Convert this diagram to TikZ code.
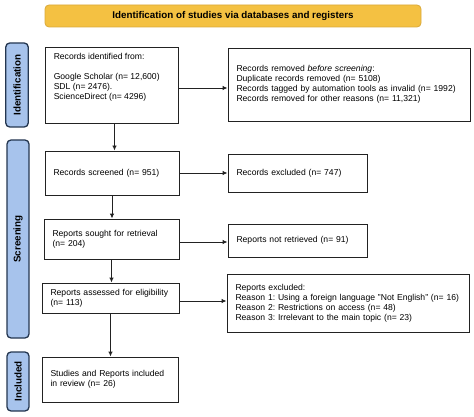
\documentclass[tikz,border=0pt]{standalone}
\usepackage{fontspec}
\setmainfont{Liberation Sans}
\usetikzlibrary{arrows.meta}
\definecolor{gold}{HTML}{F4C142}
\definecolor{golddark}{HTML}{D9A93A}
\definecolor{lblue}{HTML}{A7C3EC}
\definecolor{navy}{HTML}{243650}
\definecolor{boxline}{HTML}{222222}
\frenchspacing
\begin{document}
\begin{tikzpicture}[x=1pt,y=-1pt,
  every node/.style={font=\fontsize{8.6}{10}\selectfont},
  box/.style={draw=boxline, line width=0.9pt, fill=white, inner xsep=8.5pt, inner ysep=0pt, align=left},
  sidelab/.style={draw=navy, line width=1.3pt, fill=lblue, rounded corners=4pt, rotate=90,
    inner sep=0pt, font=\fontsize{9.8}{11}\selectfont\bfseries},
  banner/.style={draw=golddark, line width=0.8pt, fill=gold, rounded corners=4pt, inner sep=0pt,
    font=\fontsize{9.8}{11}\selectfont\bfseries},
  arr/.style={draw=boxline, line width=0.9pt, -{Latex[length=5pt,width=4.5pt]}}]
\useasboundingbox (0,0) rectangle (474,417);

\node[banner, minimum width=376pt, minimum height=22pt] (title) at (233,16) {Identification of studies via databases and registers};

\node[sidelab, minimum width=84pt, minimum height=22.5pt] (lid) at (17,85) {Identification};
\node[sidelab, minimum width=198pt, minimum height=22pt] (lsc) at (18,239) {Screening};
\node[sidelab, minimum width=59pt, minimum height=22pt] (lin) at (18,381.5) {Included};

\node[box, minimum height=76pt, text width=116pt] (ident) at (111.5,85) {};
\node[anchor=north west, inner sep=0pt, align=left] (identtxt) at ([xshift=9pt,yshift=-7pt]ident.north west)
  {Records identified from:\\[10pt]Google Scholar (n= 12,600)\\SDL (n= 2476).\\ScienceDirect (n= 4296)};

\node[box, minimum height=73pt, text width=225pt] (removed) at (349,84.5)
  {Records removed \textit{before screening}:\\Duplicate records removed (n= 5108)\\Records tagged by automation tools as invalid (n= 1992)\\Records removed for other reasons (n= 11,321)};

\node[box, minimum height=44pt, text width=117pt] (screened) at (112,173) {Records screened (n= 951)};
\node[box, minimum height=38pt, text width=122pt] (excluded) at (297.5,173) {Records excluded (n= 747)};

\node[box, minimum height=40pt, text width=118pt] (sought) at (111.5,239) {Reports sought for retrieval\\(n= 204)};
\node[box, minimum height=33pt, text width=122pt] (notret) at (297.5,240.5) {Reports not retrieved (n= 91)};

\node[box, minimum height=30pt, text width=120pt] (assessed) at (110.5,298) {Reports assessed for eligibility\\(n= 113)};
\node[box, minimum height=58pt, text width=225pt] (repexcl) at (348,303)
  {Reports excluded:\\Reason 1: Using a foreign language "Not English" (n= 16)\\Reason 2: Restrictions on access (n= 48)\\Reason 3: Irrelevant to the main topic (n= 23)};

\node[box, minimum height=45pt, text width=119pt] (included) at (110,379.5) {Studies and Reports included\\in review (n= 26)};

\draw[arr] ([yshift=-3pt]ident.east) -- ([yshift=-3pt]ident.east -| removed.west);
\draw[arr] (screened.east) -- (screened.east -| excluded.west);
\draw[arr] ([yshift=-3pt]sought.east) -- ([yshift=-3pt]sought.east -| notret.west);
\draw[arr] ([yshift=-3pt]assessed.east) -- ([yshift=-3pt]assessed.east -| repexcl.west);

\draw[arr] ([xshift=3pt]ident.south) -- ([xshift=3pt]ident.south |- screened.north);
\draw[arr] (screened.south) -- (screened.south |- sought.north);
\draw[arr] (sought.south) -- (sought.south |- assessed.north);
\draw[arr] (assessed.south) -- (assessed.south |- included.north);
\end{tikzpicture}
\end{document}
